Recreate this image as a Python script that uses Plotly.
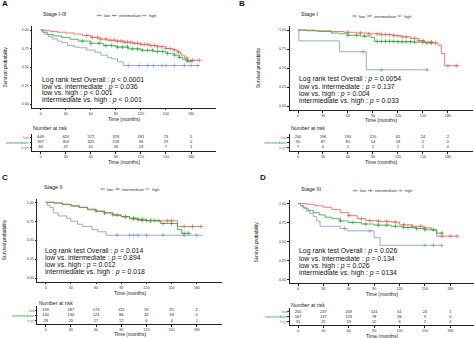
import plotly.graph_objects as go

W, H = 474, 338
FONT = "Liberation Sans, Arial, sans-serif"
RED, GREEN, BLUE = "#EE5A52", "#2BA33B", "#7C97CB"
COLORS = [RED, GREEN, BLUE]
GROUPS = ["low", "intermediate", "high"]
RISK_TIMES = [0, 30, 60, 90, 120, 150, 180]
X_TICKS = [0, 30, 60, 90, 120, 150, 180]
Y_TICKS = [0, 0.25, 0.5, 0.75, 1.0]
Y_TICKTEXT = ["0.00", "0.25", "0.50", "0.75", "1.00"]

# ---------------- Panel A : Stage I-III ----------------
a_low_t = [0, 6, 12, 20, 30, 40, 50, 60, 70, 80, 90, 100, 110, 120, 130, 140, 150, 158, 164, 168, 172, 176, 190]
a_low_s = [1.0, 0.99, 0.98, 0.97, 0.96, 0.945, 0.925, 0.90, 0.878, 0.862, 0.85, 0.835, 0.82, 0.805, 0.79, 0.775, 0.75, 0.73, 0.70, 0.66, 0.62, 0.59, 0.59]
a_int_t = [0, 3, 8, 15, 25, 35, 45, 60, 75, 90, 105, 120, 135, 150, 160, 166, 170, 174, 180]
a_int_s = [1.0, 0.97, 0.94, 0.92, 0.90, 0.875, 0.85, 0.82, 0.79, 0.77, 0.745, 0.725, 0.71, 0.685, 0.66, 0.63, 0.60, 0.58, 0.58]
a_high_t = [0, 2, 5, 9, 14, 20, 25, 32, 40, 46, 55, 65, 72, 80, 85, 92, 99, 190]
a_high_s = [1.0, 0.97, 0.94, 0.91, 0.88, 0.85, 0.83, 0.79, 0.77, 0.76, 0.73, 0.70, 0.66, 0.63, 0.61, 0.57, 0.52, 0.52]
a_low_c = [55, 62, 68, 72, 78, 83, 88, 92, 96, 100, 104, 108, 112, 116, 120, 124, 128, 132, 136, 140, 145, 150, 155, 160, 165, 175, 182, 190]
a_int_c = [50, 60, 70, 78, 85, 92, 98, 104, 110, 116, 122, 128, 134, 140, 146, 152, 160, 166, 176, 180]
a_high_c = [105, 118, 128, 135, 145, 150, 160, 172, 180, 188]
a_risk_low = [649, 620, 572, 376, 181, 73, 5]
a_risk_int = [397, 354, 325, 218, 96, 29, 0]
a_risk_high = [66, 47, 41, 26, 13, 7, 1]
a_pvals = ["Log rank test Overall : <i>p</i> < 0.0001",
           "low vs. intermediate : <i>p</i> = 0.036",
           "low vs. high : <i>p</i> < 0.001",
           "intermiediate vs. high : <i>p</i> < 0.001"]

# ---------------- Panel B : Stage I ----------------
b_low_t = [0, 20, 40, 55, 70, 85, 100, 115, 125, 135, 145, 152, 168, 172, 176, 194]
b_low_s = [1.0, 0.99, 0.98, 0.97, 0.96, 0.95, 0.94, 0.925, 0.91, 0.89, 0.86, 0.83, 0.80, 0.69, 0.53, 0.53]
b_int_t = [0, 10, 25, 40, 50, 60, 75, 88, 92, 120, 140, 162]
b_int_s = [1.0, 0.99, 0.98, 0.96, 0.95, 0.93, 0.92, 0.90, 0.85, 0.845, 0.84, 0.84]
b_high_t = [0, 1, 50, 82, 156]
b_high_s = [1.0, 0.857, 0.714, 0.476, 0.476]
b_low_c = [60, 75, 85, 95, 100, 105, 110, 115, 120, 125, 130, 140, 145, 150, 155, 160, 165, 180, 190]
b_int_c = [60, 70, 80, 95, 100, 105, 110, 115, 120, 125, 130, 135, 140, 150, 160]
b_high_c = [78, 100, 155]
b_risk_low = [200, 196, 190, 120, 61, 24, 2]
b_risk_int = [90, 87, 81, 54, 18, 2, 0]
b_risk_high = [7, 6, 5, 2, 1, 1, 0]
b_pvals = ["Log rank test Overall : <i>p</i> = 0.0054",
           "low vs. intermediate : <i>p</i> = 0.137",
           "low vs. high : <i>p</i> = 0.004",
           "intermiediate vs. high : <i>p</i> = 0.033"]

# ---------------- Panel C : Stage II ----------------
c_low_t = [0, 10, 20, 30, 40, 50, 60, 70, 80, 90, 100, 110, 120, 140, 157, 187]
c_low_s = [1.0, 0.99, 0.975, 0.955, 0.935, 0.91, 0.885, 0.86, 0.835, 0.81, 0.78, 0.76, 0.755, 0.755, 0.68, 0.68]
c_int_t = [0, 10, 20, 30, 40, 50, 60, 70, 80, 90, 100, 110, 120, 137, 157, 162, 173]
c_int_s = [1.0, 0.99, 0.97, 0.95, 0.93, 0.90, 0.88, 0.86, 0.83, 0.81, 0.79, 0.775, 0.76, 0.72, 0.64, 0.59, 0.59]
c_high_t = [0, 2, 5, 9, 15, 25, 30, 38, 44, 55, 62, 72, 187]
c_high_s = [1.0, 0.96, 0.93, 0.86, 0.82, 0.79, 0.75, 0.71, 0.68, 0.64, 0.61, 0.565, 0.565]
c_low_c = [60, 80, 95, 105, 115, 125, 135, 145, 150, 165, 175, 185]
c_int_c = [70, 85, 95, 105, 110, 115, 120, 125, 130, 140, 150, 165, 170]
c_high_c = [85, 100, 105, 110, 120, 140, 165, 180]
c_risk_low = [199, 187, 173, 115, 59, 25, 2]
c_risk_int = [140, 130, 121, 86, 42, 18, 0]
c_risk_high = [28, 20, 17, 12, 6, 4, 1]
c_pvals = ["Log rank test Overall : <i>p</i> = 0.014",
           "low vs. intermediate : <i>p</i> = 0.894",
           "low vs. high : <i>p</i> = 0.012",
           "intermiediate vs. high : <i>p</i> = 0.018"]

# ---------------- Panel D : Stage III ----------------
d_low_t = [0, 10, 20, 30, 40, 50, 60, 70, 80, 95, 110, 120, 135, 148, 158, 164, 188]
d_low_s = [1.0, 0.99, 0.97, 0.95, 0.92, 0.88, 0.84, 0.80, 0.775, 0.765, 0.755, 0.72, 0.70, 0.68, 0.65, 0.57, 0.57]
d_int_t = [0, 3, 7, 12, 18, 25, 32, 40, 50, 60, 75, 90, 110, 125, 140, 150, 164, 171]
d_int_s = [1.0, 0.97, 0.94, 0.91, 0.88, 0.85, 0.82, 0.80, 0.77, 0.75, 0.73, 0.715, 0.70, 0.685, 0.67, 0.655, 0.61, 0.61]
d_high_t = [0, 3, 6, 10, 14, 18, 22, 26, 50, 58, 90, 97, 170]
d_high_s = [1.0, 0.97, 0.94, 0.90, 0.87, 0.83, 0.77, 0.70, 0.67, 0.64, 0.55, 0.45, 0.45]
d_low_c = [60, 75, 85, 95, 105, 115, 125, 135, 145, 150, 170, 180, 188]
d_int_c = [50, 65, 80, 95, 105, 115, 125, 130, 140, 150, 160, 170]
d_high_c = [55, 85, 150, 160, 170]
d_risk_low = [250, 237, 209, 141, 61, 24, 1]
d_risk_int = [167, 137, 123, 78, 36, 9, 0]
d_risk_high = [31, 21, 19, 12, 6, 2, 0]
d_pvals = ["Log rank test Overall : <i>p</i> = 0.026",
           "low vs. intermediate : <i>p</i> = 0.134",
           "low vs. high : <i>p</i> = 0.026",
           "intermiediate vs. high : <i>p</i> = 0134"]

panels = [
    dict(letter="A", letter_xy=(0.5, 4), title="Stage I-III", title_xy=(42, 14),
         x0=40.7, pxpm=0.835, y1=30, y0=104,
         leg_x=[96.7, 111.7, 141.7], leg_y=15.5,
         p_x=41, p_y=[79.5, 86.7, 93.3, 100.2],
         ylab_x=4.5,
         curves=[(a_low_t, a_low_s, a_low_c), (a_int_t, a_int_s, a_int_c), (a_high_t, a_high_s, a_high_c)],
         risk=[a_risk_low, a_risk_int, a_risk_high], pvals=a_pvals,
         main_title_y=119.3, nar_xy=(32, 128),
         rows=(137.3, 142.3, 147.3), tbottom=151, rowlab_x=29.5,
         tab_title_y=161.8),
    dict(letter="B", letter_xy=(237.5, 4), title="Stage I", title_xy=(300, 14),
         x0=298, pxpm=0.833, y1=30, y0=106,
         leg_x=[352, 367, 397], leg_y=16,
         p_x=298, p_y=[79.3, 86.8, 94.1, 100.7],
         ylab_x=258,
         curves=[(b_low_t, b_low_s, b_low_c), (b_int_t, b_int_s, b_int_c), (b_high_t, b_high_s, b_high_c)],
         risk=[b_risk_low, b_risk_int, b_risk_high], pvals=b_pvals,
         main_title_y=120.2, nar_xy=(289.7, 128.3),
         rows=(137.3, 142.3, 147.3), tbottom=151, rowlab_x=287.7,
         tab_title_y=161.8),
    dict(letter="C", letter_xy=(0.5, 177), title="Stage II", title_xy=(43, 186.7),
         x0=45.7, pxpm=0.839, y1=202.3, y0=278,
         leg_x=[100, 115, 145], leg_y=189,
         p_x=44.3, p_y=[251, 258.3, 265, 271.7],
         ylab_x=4,
         curves=[(c_low_t, c_low_s, c_low_c), (c_int_t, c_int_s, c_int_c), (c_high_t, c_high_s, c_high_c)],
         risk=[c_risk_low, c_risk_int, c_risk_high], pvals=c_pvals,
         main_title_y=292.5, nar_xy=(37.7, 302.7),
         rows=(310, 315.3, 320.6), tbottom=323.8, rowlab_x=36,
         tab_title_y=333.5),
    dict(letter="D", letter_xy=(259, 177), title="Stage III", title_xy=(300, 189),
         x0=298, pxpm=0.846, y1=203.5, y0=279.5,
         leg_x=[352.7, 368, 398], leg_y=190.7,
         p_x=298, p_y=[251, 259, 266, 272.7],
         ylab_x=256,
         curves=[(d_low_t, d_low_s, d_low_c), (d_int_t, d_int_s, d_int_c), (d_high_t, d_high_s, d_high_c)],
         risk=[d_risk_low, d_risk_int, d_risk_high], pvals=d_pvals,
         main_title_y=294.3, nar_xy=(290.3, 304.7),
         rows=(311.5, 316.7, 321.9), tbottom=325.0, rowlab_x=288.7,
         tab_title_y=335.6),
]


def step_at(ts, ss, t):
    val = ss[0]
    for ti, si in zip(ts, ss):
        if ti <= t:
            val = si
    return val


def fx(px):
    return px / W


def fy(py):
    return 1 - py / H


fig = go.Figure()
layout = dict(width=W, height=H, margin=dict(l=0, r=0, t=0, b=0),
              paper_bgcolor="white", plot_bgcolor="white",
              showlegend=False, font=dict(family=FONT, color="#222"))
annotations = []
shapes = []

axis_common = dict(showgrid=False, zeroline=False, showline=True, linecolor="#222",
                   linewidth=0.8, ticks="outside", ticklen=1.8, tickwidth=0.6,
                   tickcolor="#222", tickfont=dict(size=3.7, color="#333", family=FONT))


def ann(x, y, text, size, color="#222", xanchor="left", **kw):
    d = dict(x=fx(x), y=fy(y), xref="paper", yref="paper", text=text, showarrow=False,
             xanchor=xanchor, yanchor="middle", borderpad=0,
             font=dict(size=size, color=color, family=FONT))
    d.update(kw)
    annotations.append(d)


for i, p in enumerate(panels):
    m = 2 * i + 1
    t = 2 * i + 2
    xm, ym = f"x{m}", f"y{m}"
    xt, yt = f"x{t}", f"y{t}"
    left = p["x0"] - 10 * p["pxpm"]
    right = min(p["x0"] + 210 * p["pxpm"], W)
    xrange = [(left - p["x0"]) / p["pxpm"], (right - p["x0"]) / p["pxpm"]]
    xdomain = [fx(left), fx(right)]
    span = p["y0"] - p["y1"]
    top = p["y1"] - 0.05 * span
    bot = p["y0"] + 0.05 * span
    layout[f"xaxis{m}"] = dict(axis_common, domain=xdomain, range=xrange, anchor=ym,
                               tickvals=X_TICKS)
    layout[f"yaxis{m}"] = dict(axis_common, domain=[fy(bot), fy(top)], range=[-0.05, 1.05],
                               anchor=xm, tickvals=Y_TICKS, ticktext=Y_TICKTEXT)
    # risk table axes
    r_low, r_int, r_high = p["rows"]
    sp = (r_high - r_low) / 2
    ttop = r_low - 0.7 * sp
    tb = p["tbottom"]
    yr = [3 - (tb - r_low) / sp, 3 + (r_low - ttop) / sp]
    layout[f"xaxis{t}"] = dict(axis_common, domain=xdomain, range=xrange, anchor=yt,
                               tickvals=X_TICKS)
    layout[f"yaxis{t}"] = dict(axis_common, domain=[fy(tb), fy(ttop)], range=yr, anchor=xt,
                               tickvals=[1, 2, 3], showticklabels=False)

    # curves
    for g, (ts, ss, cs) in enumerate(p["curves"]):
        col = COLORS[g]
        fig.add_trace(go.Scatter(x=ts, y=ss, mode="lines", xaxis=xm, yaxis=ym,
                                 line=dict(shape="hv", width=0.8, color=col),
                                 hoverinfo="skip"))
        fig.add_trace(go.Scatter(x=cs, y=[step_at(ts, ss, c) for c in cs], mode="markers",
                                 xaxis=xm, yaxis=ym,
                                 marker=dict(symbol="cross-thin", size=3, color=col,
                                             line=dict(width=0.7, color=col)),
                                 hoverinfo="skip"))
    # risk numbers
    for g, row in enumerate(p["risk"]):
        fig.add_trace(go.Scatter(x=RISK_TIMES, y=[3 - g] * len(RISK_TIMES), mode="text",
                                 text=[str(v) for v in row], xaxis=xt, yaxis=yt,
                                 textfont=dict(size=4.0, color="#222", family=FONT),
                                 hoverinfo="skip"))
        ann(p["rowlab_x"], p["rows"][g], GROUPS[g], 4.1, color=COLORS[g], xanchor="right")
    # text
    ann(p["letter_xy"][0], p["letter_xy"][1], f"<b>{p['letter']}</b>", 8, color="#111")
    ann(p["title_xy"][0], p["title_xy"][1], p["title"], 5.4)
    for k, line in enumerate(p["pvals"]):
        ann(p["p_x"], p["p_y"][k], line, 6.9, color="#111")
    cx = (left + right) / 2
    ann(cx, p["main_title_y"], "Time (months)", 5.0, xanchor="center")
    ann(cx, p["tab_title_y"], "Time (months)", 5.0, xanchor="center")
    ann(p["nar_xy"][0], p["nar_xy"][1], "Number at risk", 5.2)
    ann(p["ylab_x"], (top + bot) / 2, "Survival probability", 4.8, xanchor="center",
        textangle=-90)
    # legend
    for g in range(3):
        sx = p["leg_x"][g]
        ly = p["leg_y"]
        shapes.append(dict(type="line", xref="paper", yref="paper",
                           x0=fx(sx), x1=fx(sx + 5), y0=fy(ly), y1=fy(ly),
                           line=dict(color=COLORS[g], width=0.8)))
        shapes.append(dict(type="line", xref="paper", yref="paper",
                           x0=fx(sx + 2.5), x1=fx(sx + 2.5), y0=fy(ly - 1.3), y1=fy(ly + 1.3),
                           line=dict(color=COLORS[g], width=0.6)))
        ann(sx + 5.8, ly, GROUPS[g], 4.0, color="#333")

layout["annotations"] = annotations
layout["shapes"] = shapes
fig.update_layout(**layout)
fig.write_html("out.html")
